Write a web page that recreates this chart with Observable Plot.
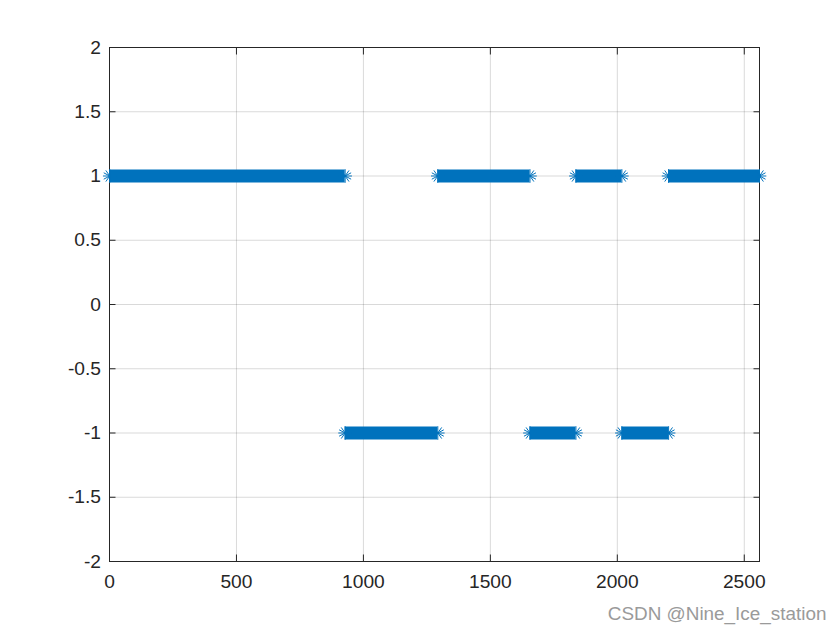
<!DOCTYPE html>
<html>
<head>
<meta charset="utf-8">
<style>
html,body{margin:0;padding:0;background:#fff;}
svg{display:block;}
</style>
<script src="https://cdn.jsdelivr.net/npm/d3@7"></script>
<script src="https://cdn.jsdelivr.net/npm/@observablehq/plot@0.6"></script>
</head>
<body>
<script>
const segStart = [1, 928, 1293, 1656, 1837, 2018, 2202];
const segEnd   = [928, 1293, 1656, 1837, 2018, 2202, 2560];
const segLevel = [1, -1, 1, -1, 1, -1, 1];
const xTicks = [0, 500, 1000, 1500, 2000, 2500];
const yTicks = [-2, -1.5, -1, -0.5, 0, 0.5, 1, 1.5, 2];
const watermark = "CSDN @Nine_Ice_station";

const segments = segStart.map((s, i) => ({x1: s, x2: segEnd[i], y: segLevel[i]}));
const endpoints = segments.flatMap(d => [{x: d.x1, y: d.y}, {x: d.x2, y: d.y}]);

const star = {
  draw(ctx, size) {
    const r = Math.sqrt(size / Math.PI);
    for (const deg of [0, 28, 55, 90, 125, 152]) {
      const a = deg * Math.PI / 180;
      const c = Math.cos(a) * r, s = Math.sin(a) * r;
      ctx.moveTo(-c, -s);
      ctx.lineTo(c, s);
    }
  }
};

const color = "#0072BD", ink = "#262626", font = "Liberation Sans, Arial, sans-serif";

const chart = Plot.plot({
  width: 840,
  height: 630,
  marginLeft: 109,
  marginRight: 81,
  marginTop: 47,
  marginBottom: 69,
  style: {background: "#fff", fontFamily: font, color: ink},
  x: {domain: [0, 2560]},
  y: {domain: [-2, 2]},
  marks: [
    Plot.gridX(xTicks, {stroke: "#000", strokeOpacity: 0.15}),
    Plot.gridY(yTicks, {stroke: "#000", strokeOpacity: 0.15}),
    Plot.frame({stroke: ink, strokeWidth: 1, fill: "none"}),
    Plot.axisX(xTicks, {anchor: "bottom", tickSize: -6.5, tickPadding: 19.5, fontSize: 19.2, tickFormat: d => String(d), stroke: ink, fill: ink, label: null}),
    Plot.axisX(xTicks, {anchor: "top", tickSize: -6.5, text: null, stroke: ink, label: null}),
    Plot.axisY(yTicks, {anchor: "left", tickSize: -6.5, tickPadding: 15, fontSize: 19.2, tickFormat: d => String(d), stroke: ink, fill: ink, label: null}),
    Plot.axisY(yTicks, {anchor: "right", tickSize: -6.5, text: null, stroke: ink, label: null}),
    Plot.ruleY(segments, {x1: "x1", x2: "x2", y: "y", stroke: color, strokeWidth: 13}),
    Plot.dot(endpoints, {x: "x", y: "y", r: 6.8, symbol: star, stroke: color, strokeWidth: 1, fill: "none"}),
    Plot.text([watermark], {
      frameAnchor: "bottom-right", dx: 67, dy: 58, textAnchor: "end",
      text: d => d, fill: "#9a9a9a", fontSize: 18.9, fontFamily: font
    })
  ]
});
document.body.appendChild(chart);
</script>
</body>
</html>
